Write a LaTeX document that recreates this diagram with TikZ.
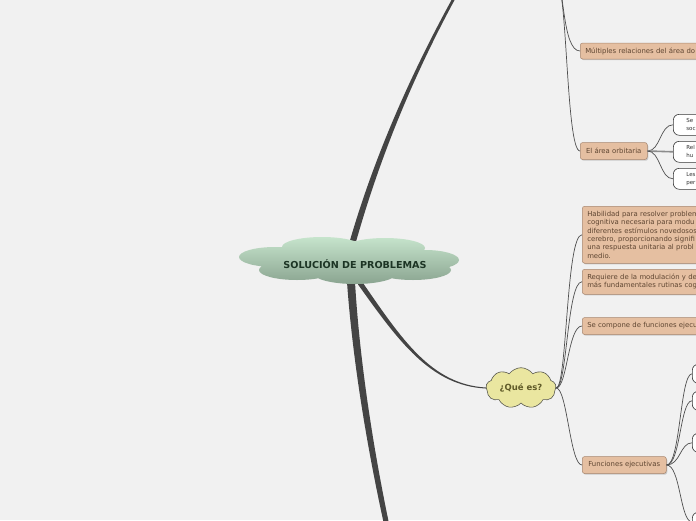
\documentclass[tikz,border=0pt]{standalone}
\usepackage{fontspec}
\setmainfont{DejaVu Sans}
\usetikzlibrary{shapes.symbols,shadows,calc}
\definecolor{bg}{RGB}{241,241,241}
\definecolor{branch}{RGB}{68,68,68}
\definecolor{thin}{RGB}{78,78,78}
\definecolor{peach}{RGB}{229,191,161}
\definecolor{peachedge}{RGB}{168,135,112}
\definecolor{peachtext}{RGB}{95,70,50}
\definecolor{cloudy}{RGB}{234,230,160}
\definecolor{cloudedge}{RGB}{90,90,80}
\definecolor{gtop}{RGB}{198,228,204}
\definecolor{gbot}{RGB}{138,164,144}
\definecolor{roottext}{RGB}{28,52,36}
\definecolor{qtext}{RGB}{95,90,40}
\definecolor{wedge}{RGB}{55,55,55}
\definecolor{wtext}{RGB}{50,50,50}
\definecolor{midline}{RGB}{140,140,140}
\begin{document}
\begin{tikzpicture}[x=1pt,y=-1pt,
  pbox/.style={draw=peachedge, fill=peach, rounded corners=2.5pt, text=peachtext,
    font=\fontsize{6.9}{8.4}\selectfont, inner xsep=5pt, inner ysep=3pt, line width=0.5pt,
    drop shadow={shadow xshift=1pt,shadow yshift=-1.2pt,opacity=0.35}},
  wbox/.style={draw=wedge, fill=white, rounded corners=6pt, line width=0.6pt,
    text=wtext, font=\fontsize{5.5}{8}\selectfont, align=left, inner xsep=13pt, inner ysep=2pt},
  ycloud/.style={cloud, cloud puffs=9, cloud puff arc=110, aspect=1.9, draw=cloudedge,
    fill=cloudy, line width=0.6pt, minimum width=70pt, minimum height=35pt, inner sep=0pt,
    font=\bfseries\fontsize{8.5}{10}\selectfont, text=qtext},
  conn/.style={draw=thin, line width=0.7pt}]
\path[use as bounding box] (0,0) rectangle (696,520);
\clip (0,0) rectangle (696,520);
\fill[bg] (0,0) rectangle (696,520);

% anchor points of the root
\coordinate (r1) at (353,241);
\coordinate (r2) at (360,283);
\coordinate (r3) at (351,282);
\coordinate (b3) at (390,540);
\coordinate (t1) at (467,-25);

% yellow clouds
\node[ycloud] (topq) at (521,-18.5) {};
\node[ycloud] (que) at (521,388) {¿Qué es?};

% main tapered branches
\fill[branch] ($(r1)+(-3.2,0)$) .. controls ($(r1)+(22.6,-88.7)$) and ($(t1)+(-52.2,88.7)$) .. ($(t1)+(-1.5,0)$)
  -- ($(t1)+(1.5,0)$) .. controls ($(t1)+(-49.2,88.7)$) and ($(r1)+(28.4,-88.7)$) .. ($(r1)+(3.2,0)$) -- cycle;
\fill[branch] ($(r2)+(2,-1.4)$) .. controls ($(r2)+(41.5,55.8)$) and ($(que.west)+(-54.7,-3.7)$) .. ($(que.west)+(0,-0.5)$)
  -- ($(que.west)+(0,0.5)$) .. controls ($(que.west)+(-55.3,-2.3)$) and ($(r2)+(38.5,58.2)$) .. ($(r2)+(-2,1.4)$) -- cycle;
\fill[branch] ($(r3)+(-4,0)$) .. controls ($(r3)+(1.5,77)$) and ($(b3)+(-23,-90)$) .. ($(b3)+(-2.5,0)$)
  -- ($(b3)+(2.5,0)$) .. controls ($(b3)+(-17,-90)$) and ($(r3)+(8.5,77)$) .. ($(r3)+(4,0)$) -- cycle;

% central cloud
\shade[top color=gtop, bottom color=gbot]
  (275,257) ellipse [x radius=36, y radius=10]
  (322,247) ellipse [x radius=40, y radius=10]
  (385,248) ellipse [x radius=40, y radius=10]
  (425,260) ellipse [x radius=34, y radius=10]
  (297,270) ellipse [x radius=38, y radius=10]
  (355,273) ellipse [x radius=42, y radius=11]
  (413,270) ellipse [x radius=38, y radius=10]
  (350,262) ellipse [x radius=85, y radius=14];
\node[font=\bfseries\fontsize{9.6}{11}\selectfont, text=roottext] (root) at (355,264) {SOLUCIÓN DE PROBLEMAS};

% boxes under the top cloud
\node[pbox, anchor=west, text width=140pt, align=left, minimum height=16pt] (mult) at (580,51) {Múltiples relaciones del área do};
\node[pbox, anchor=west, minimum height=17pt, minimum width=67pt, inner xsep=3pt] (orb) at (580,151) {El área orbitaria};
\node[wbox, anchor=north west, minimum height=21pt, text width=40pt] (o1) at (673,114) {Se\\soc};
\node[wbox, anchor=north west, minimum height=21pt, text width=40pt] (o2) at (673,141) {Rel\\hu};
\node[wbox, anchor=north west, minimum height=21pt, text width=40pt] (o3) at (673,168) {Les\\per};

\draw[conn] (topq.east) .. controls +(8,0) and +(-18,0) .. (mult.west);
\draw[conn] (topq.east) .. controls +(11,0) and +(-14,0) .. (orb.west);
\draw[conn] (orb.east) .. controls +(13,0) and +(-13,0) .. (o1.west);
\draw[draw=midline, line width=1.6pt] (orb.east) -- (o2.west);
\draw[conn] (orb.east) .. controls +(13,0) and +(-13,0) .. (o3.west);

% boxes of "Que es"
\node[pbox, anchor=north west, text width=140pt, align=left, minimum height=57pt] (hab) at (582,206)
  {Habilidad para resolver problem\\cognitiva necesaria para modu\\diferentes estímulos novedosos\\cerebro, proporcionando signifi\\una respuesta unitaria al probl\\medio.};
\node[pbox, anchor=north west, text width=140pt, align=left, minimum height=25pt] (req) at (582,269)
  {Requiere de la modulación y de\\más fundamentales rutinas cog};
\node[pbox, anchor=west, text width=140pt, align=left, minimum height=17pt] (comp) at (582,326)
  {Se compone de funciones ejecu};
\node[pbox, anchor=west, minimum height=17pt, minimum width=84pt, inner xsep=3pt] (fe) at (582,465) {Funciones ejecutivas};

\draw[conn] (que.east) .. controls +(11,0) and +(-16,0) .. (hab.west);
\draw[conn] (que.east) .. controls +(11,0) and +(-15,0) .. (req.west);
\draw[conn] (que.east) .. controls +(11,0) and +(-14,0) .. (comp.west);
\draw[conn] (que.east) .. controls +(11,0) and +(-12,0) .. (fe.west);

% children of "Funciones ejecutivas"
\node[wbox, anchor=north west, minimum height=19pt, text width=40pt] (f1) at (692,364) {};
\node[wbox, anchor=north west, minimum height=19pt, text width=40pt] (f2) at (692,391) {};
\node[wbox, anchor=north west, minimum height=19pt, text width=40pt] (f3) at (692,433) {};
\node[wbox, anchor=north west, minimum height=19pt, text width=40pt] (f4) at (692,512) {};
\draw[conn] (fe.east) .. controls +(14,0) and +(-12,0) .. (f1.west);
\draw[conn] (fe.east) .. controls +(14,0) and +(-12,0) .. (f2.west);
\draw[conn] (fe.east) .. controls +(14,0) and +(-12,0) .. (f3.west);
\draw[conn] (fe.east) .. controls +(14,0) and +(-12,0) .. (f4.west);
\end{tikzpicture}
\end{document}
